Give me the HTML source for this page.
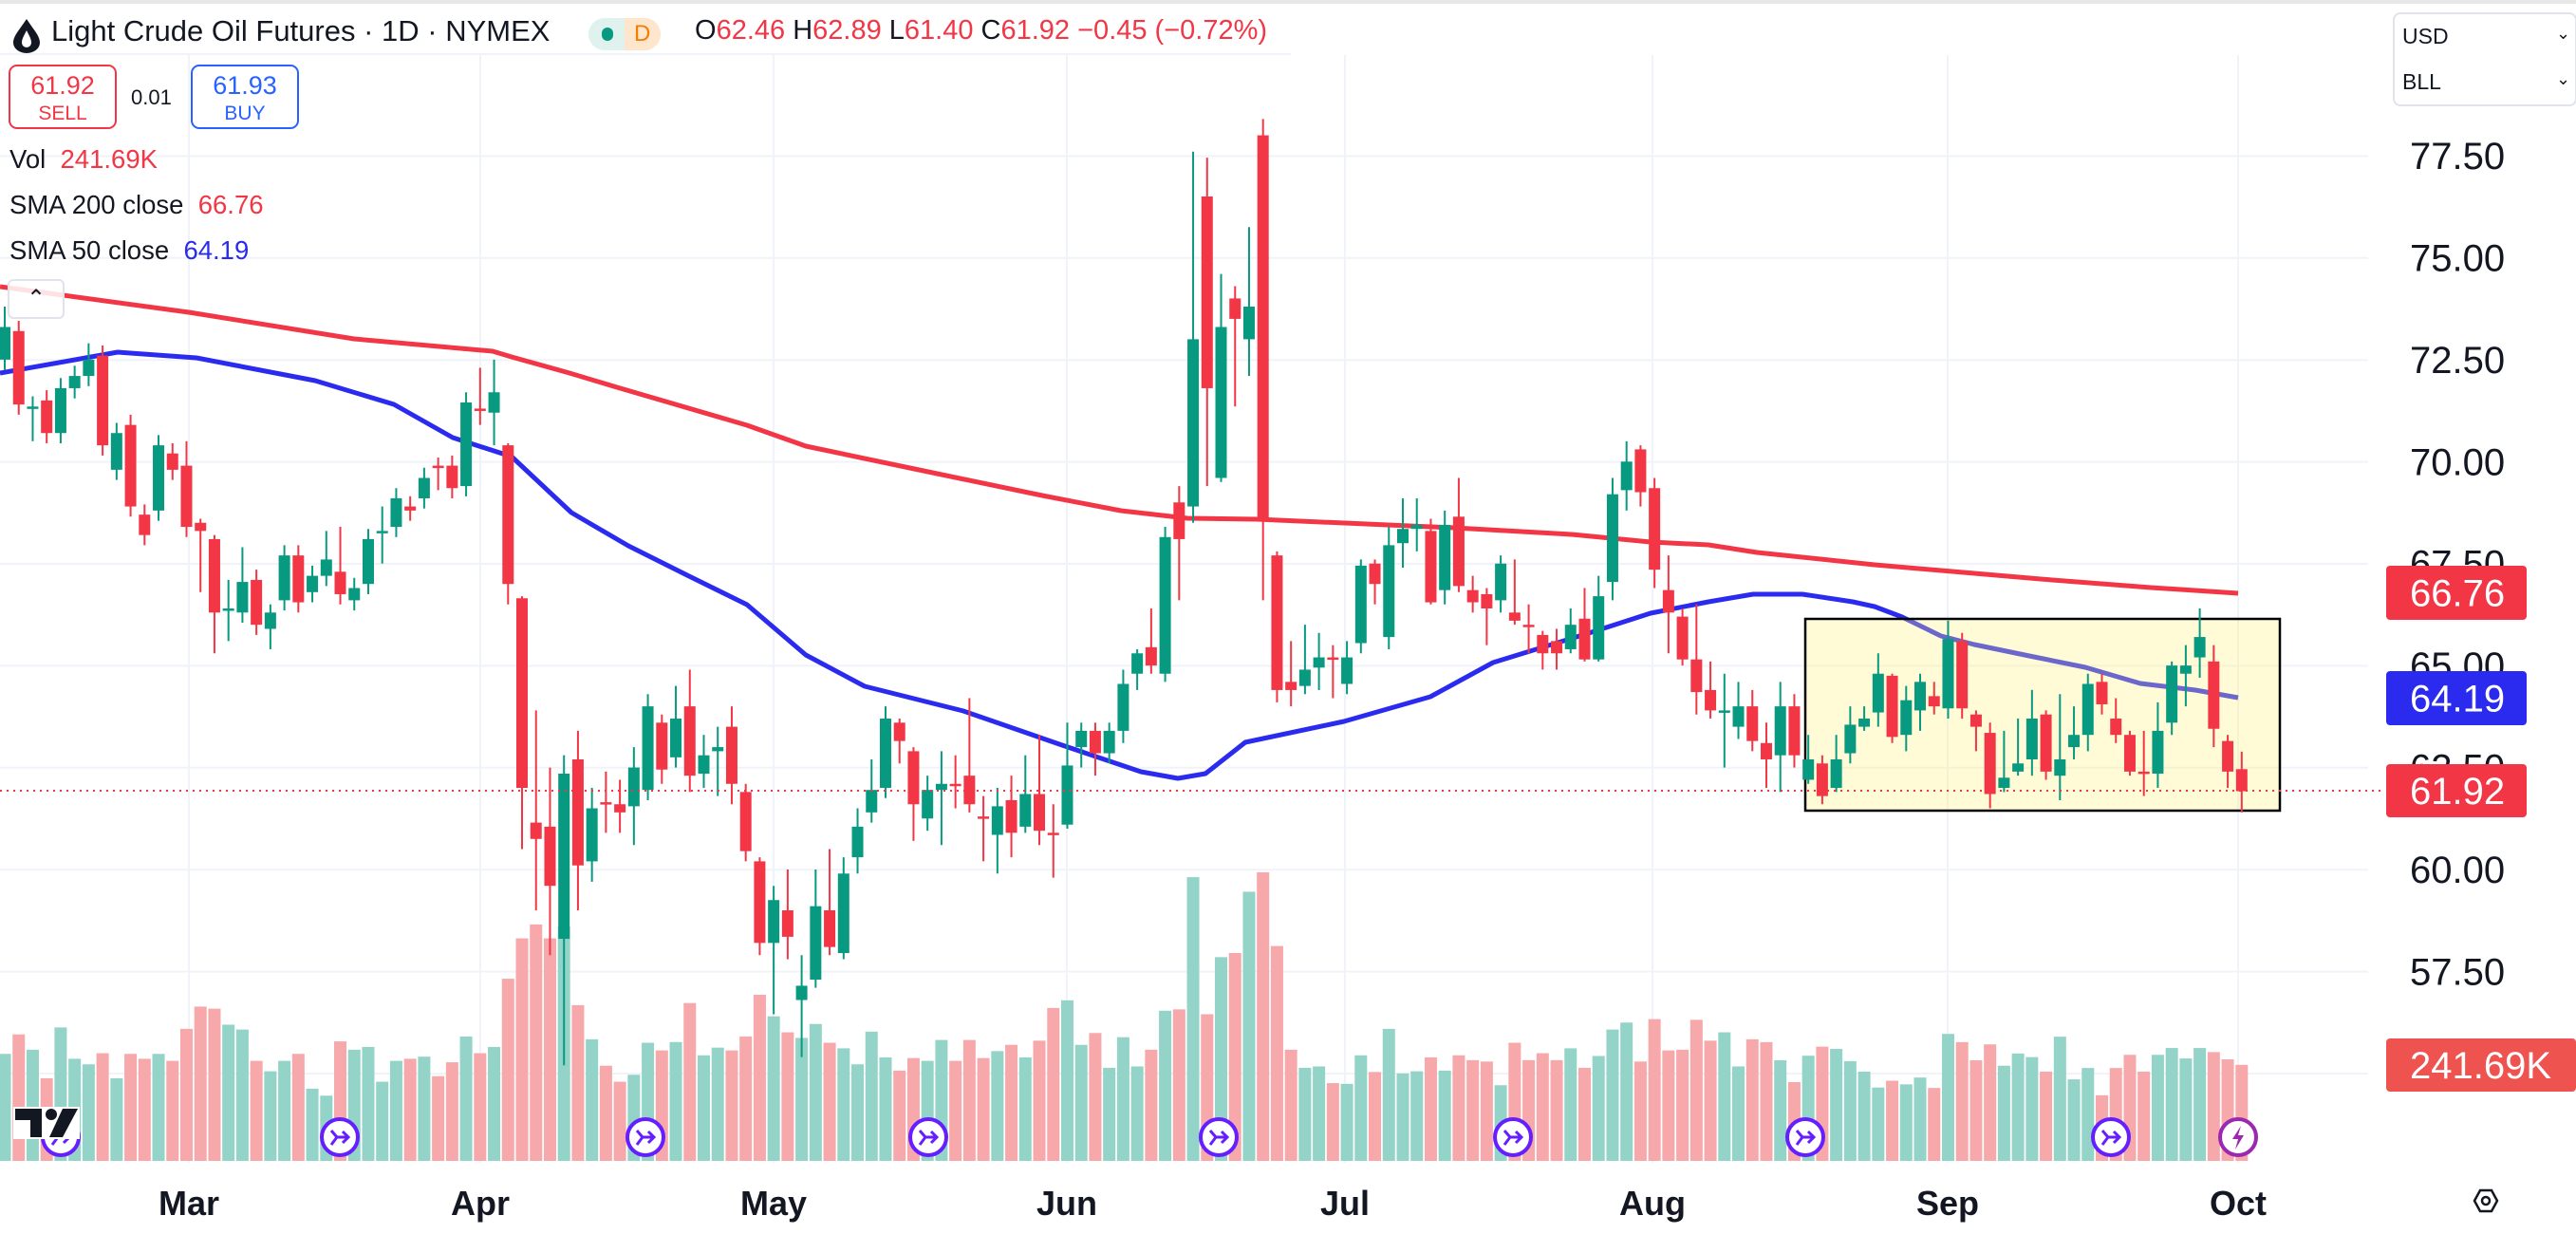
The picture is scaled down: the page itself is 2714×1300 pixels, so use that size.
<!DOCTYPE html>
<html><head><meta charset="utf-8">
<style>
html,body{margin:0;padding:0;width:2714px;height:1300px;overflow:hidden;background:#fff;font-family:"Liberation Sans",sans-serif;}
.abs{position:absolute;}
</style></head>
<body>
<div class="abs" style="left:0;top:0;width:2714px;height:4px;background:#e8e8e8"></div>
<svg id="c" class="abs" style="left:0;top:0" width="2714" height="1300" xmlns="http://www.w3.org/2000/svg"></svg>

<!-- header -->
<svg class="abs" style="left:10px;top:18px" width="36" height="38"><path d="M18 2 C10 14 4 20 4 27 a14 11 0 0 0 28 0 C32 20 26 14 18 2z" fill="#131722"/><path d="M18 14 C15 20 13 23 13 27 a5 5 0 0 0 10 0 C23 23 21 20 18 14z" fill="#fff"/></svg>
<div class="abs" style="left:54px;top:15px;font-size:31px;color:#131722;white-space:nowrap">Light Crude Oil Futures · 1D · NYMEX</div>
<div class="abs" style="left:620px;top:19px;width:76px;height:34px;border-radius:17px;background:#e0f2ee;overflow:hidden">
  <div class="abs" style="left:38px;top:0;width:38px;height:34px;background:#fde6cc"></div>
  <div class="abs" style="left:14px;top:10px;width:12px;height:14px;border-radius:6px;background:#089981"></div>
  <div class="abs" style="left:48px;top:3px;font-size:24px;color:#f57c00">D</div>
</div>
<div class="abs" style="left:732px;top:16px;font-size:29px;white-space:nowrap;color:#131722">O<span style="color:#f23645">62.46</span> H<span style="color:#f23645">62.89</span> L<span style="color:#f23645">61.40</span> C<span style="color:#f23645">61.92</span> <span style="color:#f23645">−0.45 (−0.72%)</span></div>
<div class="abs" style="left:0;top:56px;width:1360px;height:2px;background:#f0f3fa"></div>

<div class="abs" style="left:9px;top:68px;width:110px;height:64px;border:2px solid #f23645;border-radius:9px;color:#f23645;text-align:center">
<div style="font-size:27px;margin-top:5px">61.92</div><div style="font-size:21px;margin-top:2px">SELL</div></div>
<div class="abs" style="left:138px;top:90px;font-size:22px;color:#131722">0.01</div>
<div class="abs" style="left:201px;top:68px;width:110px;height:64px;border:2px solid #2962ff;border-radius:9px;color:#2962ff;text-align:center">
<div style="font-size:27px;margin-top:5px">61.93</div><div style="font-size:21px;margin-top:2px">BUY</div></div>

<div class="abs" style="left:10px;top:152px;font-size:27.5px;color:#131722;white-space:nowrap">Vol&nbsp; <span style="color:#f23645">241.69K</span></div>
<div class="abs" style="left:10px;top:200px;font-size:27.5px;color:#131722;white-space:nowrap">SMA 200 close&nbsp; <span style="color:#f23645">66.76</span></div>
<div class="abs" style="left:10px;top:248px;font-size:27.5px;color:#131722;white-space:nowrap">SMA 50 close&nbsp; <span style="color:#2b2bf0">64.19</span></div>
<div class="abs" style="left:8px;top:294px;width:56px;height:38px;border:2px solid #e0e3eb;border-radius:6px;background:rgba(255,255,255,0.85);text-align:center;font-size:24px;line-height:38px;color:#131722">⌃</div>

<!-- USD / BLL -->
<div class="abs" style="left:2521px;top:13px;width:190px;height:95px;border:2px solid #e0e3eb;border-radius:8px;background:#fff">
<div class="abs" style="left:8px;top:10px;font-size:23px;color:#131722">USD</div>
<div class="abs" style="left:8px;top:58px;font-size:23px;color:#131722">BLL</div>
<div class="abs" style="left:170px;top:10px;font-size:18px;color:#131722">⌄</div>
<div class="abs" style="left:170px;top:58px;font-size:18px;color:#131722">⌄</div>
</div>

<script>
const svg=document.getElementById('c');
const NS='http://www.w3.org/2000/svg';
function el(t,a,txt){const e=document.createElementNS(NS,t);for(const k in a)e.setAttribute(k,a[k]);if(txt!==undefined)e.textContent=txt;svg.appendChild(e);return e;}
const Y=p=>916-(p-60)*42.97;
const X=i=>5+i*14.73;
for(let k=0;k<10;k++){const y=164.4+k*107.4;el('line',{x1:0,x2:2495,y1:y,y2:y,stroke:'#f0f3fa','stroke-width':2});}
const months=[[199,'Mar'],[506,'Apr'],[815,'May'],[1124,'Jun'],[1417,'Jul'],[1741,'Aug'],[2052,'Sep'],[2358,'Oct']];
months.forEach(m=>{el('line',{x1:m[0],x2:m[0],y1:58,y2:1225,stroke:'#f0f3fa','stroke-width':2});
 el('text',{x:m[0],y:1280,'text-anchor':'middle','font-size':36,'font-weight':'bold',fill:'#131722','font-family':'Liberation Sans, sans-serif'},m[1]);});
const D=[[72.5,73.3,73.8],[73.2,71.4],[71.3,71.35,71.6,70.5],[71.5,70.7],[70.7,71.8],[71.8,72.1],[72.1,72.5,72.9],[72.6,70.4],[69.8,70.7],[70.9,68.9],
[68.7,68.2],[68.8,70.4],[70.2,69.8],[69.9,68.4,70.5],[68.5,68.3,68.6,66.8],[68.1,66.3,68.2,65.3],[66.4,66.4,67.1,65.6],[66.3,67.05,67.9],[67.1,66.0],[65.9,66.3,66.5,65.4],
[66.6,67.7],[67.7,66.55],[66.8,67.2],[67.2,67.6,68.3],[67.3,66.75,68.4],[66.6,66.9],[67.0,68.1],[68.3,68.3,68.9,67.5],[68.4,69.1],[68.9,68.8],
[69.1,69.6],[69.9,69.9,70.1,69.3],[69.9,69.35],[69.4,71.45],[71.3,71.3,72.3,70.9],[71.2,71.7,72.5,70.4],[70.4,67.0,70.45,66.5],[66.65,62.0,66.7,60.5],[61.15,60.75,63.9,59.0],[61.05,59.6,62.5,57.9],
[58.3,62.35,62.8,55.2],[62.7,60.1,63.4,59.0],[60.2,61.5,62.0,59.7],[61.65,61.65,62.4,60.9],[61.6,61.4,62.2,60.9],[61.55,62.5,63.0,60.6],[61.95,64.0,64.3],[63.6,62.45,63.8,62.1],[62.75,63.7,64.5],[64.0,62.3,64.9,61.9],
[62.35,62.8,63.3,62.0],[62.9,63.0,63.5,61.8],[63.5,62.1,64.0,61.6],[61.9,60.45,62.1,60.2],[60.2,58.2,60.3,57.9],[58.2,59.25,59.6,56.45],[59.0,58.35,60.0,57.8],[56.8,57.15,57.9,55.4],[57.3,59.1,60.0,57.1],[59.0,58.1,60.5,57.9],
[57.95,59.9,60.3,57.8],[60.3,61.05,61.5,59.9],[61.4,61.95,62.7],[62.0,63.7,64.0],[63.6,63.15,63.7,62.6],[62.9,61.6,63.0,60.7],[61.25,61.95,62.3,60.95],[61.95,62.1,62.9,60.6],[62.1,62.1,62.8,61.5],[62.3,61.6,64.2,61.4],
[61.3,61.3,61.8,60.2],[60.85,61.55,62.0,59.9],[61.7,60.9,62.3,60.3],[61.05,61.85,62.8,60.9],[61.85,60.95,63.3,60.6],[60.9,60.9,61.6,59.8],[61.1,62.55,63.6,61.0],[63.0,63.4,63.6,62.5],[63.4,62.85,63.6,62.3],[62.85,63.4,63.6,62.6],
[63.4,64.55,64.9,63.1],[64.8,65.3,65.4,64.4],[65.45,65.0,66.4,64.8],[64.8,68.15,68.4,64.6],[69.0,68.1,69.4,66.6],[68.9,73.0,77.6,68.5],[76.5,71.8,77.45,69.4],[69.6,73.3,74.6,69.5],[74.0,73.5,74.3,71.35],[73.0,73.8,75.75,72.1],
[78.0,68.6,78.4,66.6],[67.7,64.4,67.8,64.1],[64.6,64.4,65.6,64.0],[64.5,64.9,66.0,64.3],[64.95,65.2,65.8,64.4],[65.2,65.2,65.5,64.2],[64.55,65.2,65.6,64.3],[65.55,67.45,67.6,65.3],[67.5,67.0,67.6,66.5],[65.7,67.95,68.4,65.4],
[68.0,68.35,69.1,67.4],[68.35,68.45,69.1,67.8],[68.3,66.55,68.6,66.5],[66.85,68.45,68.8,66.5],[68.65,66.95,69.6,66.8],[66.85,66.55,67.2,66.3],[66.75,66.4,66.9,65.5],[66.6,67.5,67.7,66.3],[66.3,66.1,67.6,66.0],[66.0,65.98,66.5,65.3],
[65.75,65.3,65.85,64.9],[65.6,65.3,65.9,64.9],[65.4,66.0,66.4,65.3],[66.15,65.15,66.9,65.1],[65.15,66.7,67.2,65.1],[67.05,69.2,69.6,66.6],[69.3,70.0,70.5,68.8],[70.3,69.25,70.4,68.9],[69.35,67.35,69.6,66.9],[66.85,66.3,67.7,65.3],
[66.2,65.15,66.4,65.0],[65.15,64.35,66.5,63.8],[64.4,63.9,65.1,63.7],[63.9,63.9,64.8,62.5],[63.5,64.0,64.6,63.2],[64.0,63.15,64.4,62.9],[63.1,62.7,63.6,62.0],[62.8,64.0,64.6,61.9],[64.0,62.8,64.3,62.5],[62.2,62.7,63.3,62.1],
[62.6,61.8,62.8,61.6],[62.0,62.7,63.3,61.9],[62.85,63.55,64.0,62.6],[63.5,63.7,64.0,63.4],[63.85,64.8,65.3,63.5],[64.75,63.25,64.8,63.1],[63.3,64.15,64.5,62.9],[63.9,64.6,64.8,63.4],[64.25,64.0,64.6,63.8],[63.95,65.65,66.1,63.7],
[65.6,63.95,65.8,63.7],[63.8,63.5,63.9,62.9],[63.35,61.85,63.6,61.5],[62.0,62.25,63.4,61.9],[62.4,62.6,63.7,62.3],[62.7,63.7,64.4,62.3],[63.8,62.4,63.9,62.2],[62.3,62.7,64.3,61.7],[63.0,63.3,64.0,62.7],[63.3,64.55,64.8,62.9],
[64.6,64.05,64.8,63.8],[63.7,63.3,64.2,63.1],[63.3,62.4,63.4,62.3],[62.4,62.35,63.4,61.8],[62.35,63.4,64.1,62.0],[63.6,65.0,65.1,63.3],[64.8,65.0,65.5,64.0],[65.2,65.7,66.4,64.7],[65.1,63.45,65.5,63.0],[63.15,62.4,63.3,62.0],
[62.46,61.92,62.89,61.4]];
const greenC=[2,16,27,51,123];
const isGreen=(i,d)=>d[1]>d[0]||(d[1]===d[0]&&greenC.includes(i));
const v3=[1378,1350,1372,1413,1340,1385,1393,1377,1413,1378,1385,1378,1388,1342,1310,1313,1336,1343,1388,1403,1388,1378,1428,1438,1360,1372,1368,1418,1388,1385,1382,1410,1390,1353,1377,1368,1270,1212,1192,1212,1195,1308,1357,1395,
1418,1408,1362,1373,1361,1305,1380,1369,1373,1353,1293,1324,1347,1355,1335,1362,1370,1393,1346,1383,1402,1384,1388,1358,1388,1358,1384,1374,1365,1383,1359,1312,1301,1365,1348,1398,1354,1396,1372,1316,1314,
1124,1321,1239,1233,1145,1117,1223,1372,1398,1396,1420,1421,1380,1404,1342,1406,1403,1383,1402,1380,1387,1389,1423,1362,1387,1377,1387,1370,1398,1381,1343,1333,1389,1328,1373,1372,1329,1359,1347,1396,1357];
const v2=[1145,1185,1233,1175,1155,1160,1187,1210,1245,1230,1238,1223,1246,1127,1145,1185,1150,1197,1170,1178,1210,1133,1227,1202,1262,1202,1173,1210,1173,1158,1181,1158,1167,1183,1195];
const vt=i=>i<126?100+v3[i]/1.364:550+v2[i-126]/2.09;
D.forEach((d,i)=>{const g=isGreen(i,d);const t=vt(i);el('rect',{x:X(i)-6.5,y:t,width:13,height:1223-t,fill:g?'#93d3c8':'#f7a8aa'});});
const s200=[[0,302],[199,329],[373,357],[519,370],[539,376],[600,393],[650,408],[787,448],[849,470],[973,496],[1098,522],[1181,538],[1251,546],[1324,547],[1532,556],[1656,563],[1739,571],[1800,574],[1851,582],[1975,595],[2150,610],[2266,619],[2358,625]];
const s50=[[0,393],[124,371],[207,377],[332,401],[415,426],[477,461],[539,481],[602,540],[662,575],[724,606],[787,637],[849,690],[911,723],[1015,749],[1119,785],[1202,813],[1241,820],[1270,815],[1312,782],[1416,760],[1507,734],[1573,698],[1677,666],[1739,646],[1800,634],[1847,626],[1899,626],[1952,634],[1975,639],[2004,650],[2045,670],[2080,679],[2138,691],[2197,703],[2255,720],[2313,727],[2358,735]];
const pl=a=>a.map(p=>p.join(',')).join(' ');
el('polyline',{points:pl(s200),fill:'none',stroke:'#f23645','stroke-width':5,'stroke-linejoin':'round'});
el('polyline',{points:pl(s50),fill:'none',stroke:'#2b2bf0','stroke-width':5,'stroke-linejoin':'round'});
el('rect',{x:1902,y:652,width:500,height:202,fill:'rgba(255,241,118,0.3)',stroke:'#000','stroke-width':2.5});
D.forEach((d,i)=>{const g=isGreen(i,d);const col=g?'#089981':'#f23645';
 const o=d[0],c=d[1];const h=d[2]!==undefined?d[2]:Math.max(o,c)+0.25;const l=d[3]!==undefined?d[3]:Math.min(o,c)-0.25;
 const x=X(i);el('line',{x1:x,x2:x,y1:Y(h),y2:Y(l),stroke:col,'stroke-width':2});
 const yt=Y(Math.max(o,c)),yb=Y(Math.min(o,c));el('rect',{x:x-6,y:yt,width:12,height:Math.max(2.5,yb-yt),fill:col});});
el('line',{x1:0,x2:2512,y1:833,y2:833,stroke:'#f23645','stroke-width':2,'stroke-dasharray':'2 5'});
[[77.5,'77.50'],[75,'75.00'],[72.5,'72.50'],[70,'70.00'],[67.5,'67.50'],[65,'65.00'],[62.5,'62.50'],[60,'60.00'],[57.5,'57.50']].forEach(p=>{
 el('text',{x:2539,y:Y(p[0])+14,'font-size':40,fill:'#131722','font-family':'Liberation Sans, sans-serif'},p[1]);});
function badge(y,h,w,col,txt){el('rect',{x:2514,y:y,width:w,height:h,rx:4,fill:col});el('text',{x:2539,y:y+h/2+14,'font-size':40,fill:'#fff','font-family':'Liberation Sans, sans-serif'},txt);}
badge(596,57,148,'#f23645','66.76');badge(707,57,148,'#2b2bf0','64.19');badge(805,56,148,'#f23645','61.92');badge(1094,56,200,'#ef5350','241.69K');
function ev(x,bolt){const c=bolt?'#9c27b0':'#651fff';el('circle',{cx:x,cy:1198,r:19,fill:'#fff',stroke:c,'stroke-width':4});
 if(bolt){el('path',{d:`M${x+3} ${1186} L${x-6} ${1200} L${x} ${1200} L${x-3} ${1211} L${x+6} ${1196} L${x} ${1196}Z`,fill:c});}
 else{el('path',{d:`M${x-9} ${1191} L${x-3} ${1198} L${x-9} ${1206} M${x-3} ${1198} L${x+9} ${1198} M${x+3} ${1192} L${x+9} ${1198} L${x+3} ${1204}`,fill:'none',stroke:c,'stroke-width':3});}}
[64,358,680,978,1284,1594,1902,2224].forEach(x=>ev(x,false));ev(2358,true);
el('rect',{x:14,y:1166,width:70,height:34,fill:'#fff'});
el('path',{d:'M16 1168 H44 V1198 H32 V1180 H16Z',fill:'#131722'});
el('circle',{cx:54,cy:1174,r:6,fill:'#131722'});
el('path',{d:'M66 1168 H82 L66 1198 H52Z',fill:'#131722'});
el('polygon',{points:'2607,1265 2613,1254 2625,1254 2631,1265 2625,1276 2613,1276',fill:'none',stroke:'#131722','stroke-width':2.5});
el('circle',{cx:2619,cy:1265,r:4,fill:'none',stroke:'#131722','stroke-width':2.5});
</script>
</body></html>
